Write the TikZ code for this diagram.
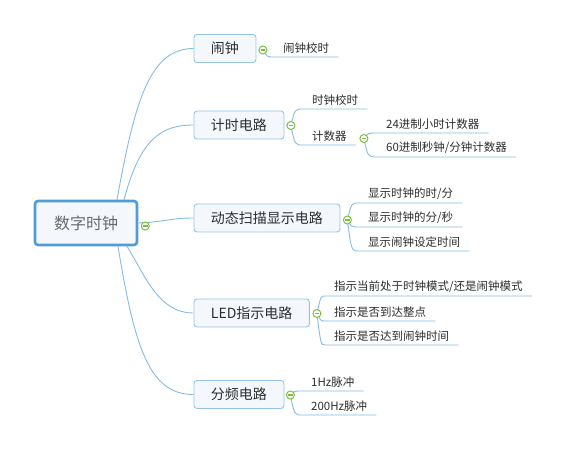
\documentclass[tikz,border=0pt]{standalone}
\usepackage{fontspec}
\setmainfont{Noto Sans CJK SC}
\usetikzlibrary{calc,backgrounds}
\definecolor{linija}{RGB}{133,188,228}
\definecolor{okvir}{RGB}{150,196,232}
\definecolor{korenrub}{RGB}{80,156,214}
\definecolor{pozadina}{RGB}{244,248,253}
\definecolor{zelena}{RGB}{124,190,66}
\definecolor{tekst}{RGB}{45,45,45}
\definecolor{korentekst}{RGB}{105,105,105}

\begin{document}
\begin{tikzpicture}[x=1pt,y=-1pt,
    koren/.style={draw=korenrub, line width=2.6pt, rounded corners=3pt, fill=pozadina,
        minimum width=102pt, minimum height=44pt, text=korentekst, font=\fontsize{16}{18}\selectfont},
    grana/.style={draw=okvir, line width=0.9pt, rounded corners=3pt, fill=pozadina, anchor=west,
        minimum height=28pt, inner xsep=17pt, text=tekst, font=\fontsize{14}{16}\selectfont},
    list/.style={anchor=south west, inner xsep=9pt, inner ysep=3pt, text=tekst,
        font=\fontsize{11.5}{13}\selectfont},
    veza/.style={draw=linija, line width=0.9pt},
    sklop/.style={circle, draw=zelena, fill=white, line width=1pt, inner sep=0pt, minimum size=8pt,
        path picture={\draw[zelena, line width=1.1pt] ([xshift=-2.2pt]path picture bounding box.center)
            -- ([xshift=2.2pt]path picture bounding box.center);}}]
    \useasboundingbox (0,0) rectangle (567,450);

    \node[koren] (root) at (86,223) {数字时钟};

    \node[grana] (nz)  at (193.5,48.5) {闹钟};
    \node[grana] (js)  at (193.5,125)  {计时电路};
    \node[grana] (dt)  at (193.5,218)  {动态扫描显示电路};
    \node[grana] (led) at (193.5,313)  {LED指示电路};
    \node[grana] (fp)  at (193.5,394.5) {分频电路};

    \node[list] (l1)  at (274,57)  {闹钟校时};
    \node[list] (l2)  at (303,109) {时钟校时};
    \node[list] (l3)  at (303,145) {计数器};
    \node[list] (l4)  at (377,133) {24进制小时计数器};
    \node[list] (l5)  at (377,157) {60进制秒钟/分钟计数器};
    \node[list] (l6)  at (359,203) {显示时钟的时/分};
    \node[list] (l7)  at (359,227) {显示时钟的分/秒};
    \node[list] (l8)  at (359,251) {显示闹钟设定时间};
    \node[list] (l9)  at (325,296) {指示当前处于时钟模式/还是闹钟模式};
    \node[list] (l10) at (325,321) {指示是否到达整点};
    \node[list] (l11) at (325,345) {指示是否达到闹钟时间};
    \node[list] (l12) at (302,391) {1Hz脉冲};
    \node[list] (l13) at (302,415) {200Hz脉冲};

    \node[sklop] (fr) at ([xshift=7pt,yshift=-3pt]root.east) {};
    \node[sklop] (f1) at ([xshift=6.5pt,yshift=-1.5pt]nz.east) {};
    \node[sklop] (f2) at ([xshift=6.5pt,yshift=-0.5pt]js.east) {};
    \node[sklop] (f3) at ([xshift=8pt,yshift=6.5pt]l3.south east) {};
    \node[sklop] (f4) at ([xshift=7pt,yshift=-2pt]dt.east) {};
    \node[sklop] (f5) at ([xshift=7pt,yshift=-0.5pt]led.east) {};
    \node[sklop] (f6) at ([xshift=6pt,yshift=-0.5pt]fp.east) {};

    \begin{pgfonlayer}{background}
        \draw[veza] ([xshift=31pt]root.north) .. controls (135,100) and (150,48.5) .. (nz.west);
        \draw[veza] ([xshift=38pt]root.north) .. controls (140,140) and (160,125) .. (js.west);
        \draw[veza] (root.east) .. controls (165,222) and (170,218) .. (dt.west);
        \draw[veza] ([xshift=41pt]root.south) .. controls (145,275) and (158,313) .. (led.west);
        \draw[veza] ([xshift=32pt]root.south) .. controls (135,350) and (150,394.5) .. (fp.west);

        % podvlake i krivine do listova
        \foreach \f/\l in {f1/l1, f2/l2, f2/l3, f3/l4, f3/l5, f4/l6, f4/l7, f4/l8,
                           f5/l9, f5/l10, f5/l11, f6/l12, f6/l13}{
            \draw[veza] (\f.center) .. controls ($(\f.center |- \l.south west)+(4,0)$) .. (\l.south west)
                -- (\l.south east);
        }
    \end{pgfonlayer}
\end{tikzpicture}
\end{document}
